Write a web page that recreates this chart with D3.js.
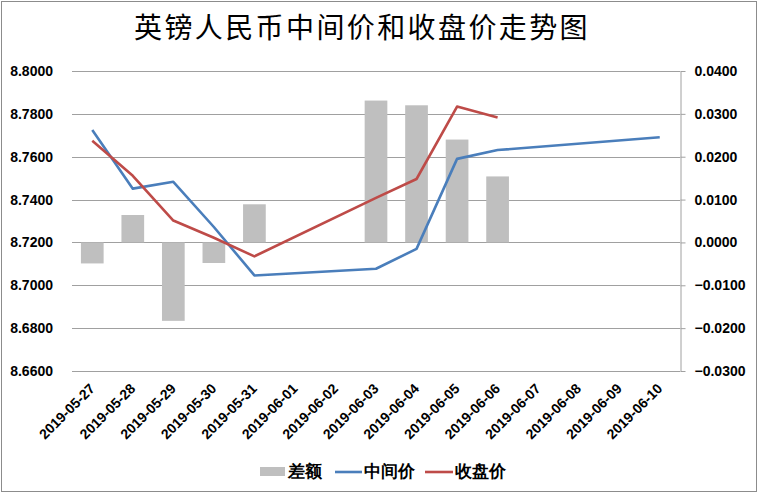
<!DOCTYPE html>
<html>
<head>
<meta charset="utf-8">
<script src="https://cdn.jsdelivr.net/npm/d3@7"></script>
<style>
  body { margin: 0; background: #fff; }
  text { font-family: "Liberation Sans", Arial, sans-serif; }
</style>
</head>
<body>
<svg id="chart" width="759" height="494"></svg>
<script>
// 日期（类目）
const dates = ["2019-05-27", "2019-05-28", "2019-05-29", "2019-05-30", "2019-05-31",
  "2019-06-01", "2019-06-02", "2019-06-03", "2019-06-04", "2019-06-05",
  "2019-06-06", "2019-06-07", "2019-06-08", "2019-06-09", "2019-06-10"];
// 中间价（左轴）
const midPrice = [8.7725, 8.7451, 8.7483, 8.7272, 8.7046, null, null, 8.7077, 8.7170, 8.7590,
  8.7631, null, null, null, 8.7691];
// 收盘价（左轴）
const closePrice = [8.7675, 8.7511, 8.7302, 8.7222, 8.7135, null, null, 8.7408, 8.7496, 8.7834,
  8.7783, null, null, null, null];
// 差额（右轴）
const diff = [-0.0049, 0.0064, -0.0183, -0.0048, 0.0089, null, null, 0.0331, 0.0320, 0.0240,
  0.0154, null, null, null, null];
// 刻度
const leftTicks = [8.66, 8.68, 8.70, 8.72, 8.74, 8.76, 8.78, 8.80];
const rightTicks = [-0.03, -0.02, -0.01, 0, 0.01, 0.02, 0.03, 0.04];

const plot = { left: 72, right: 680, top: 71, bottom: 371 };
const svg = d3.select("#chart");

// 边框
svg.append("rect")
  .attr("x", 1.5).attr("y", 1.5).attr("width", 755).attr("height", 490)
  .attr("fill", "none").attr("stroke", "#8c8c8c");

// 标题
svg.append("text")
  .attr("x", 362).attr("y", 26)
  .attr("text-anchor", "middle").attr("dominant-baseline", "central")
  .style("font-family", "'Noto Sans CJK SC', sans-serif")
  .style("font-size", "28px").style("letter-spacing", "2.4px")
  .text("英镑人民币中间价和收盘价走势图");

// scale
const x = d3.scaleBand().domain(dates).range([plot.left, plot.right]);
const yL = d3.scaleLinear().domain([8.66, 8.80]).range([plot.bottom, plot.top]);
const yR = d3.scaleLinear().domain([-0.03, 0.04]).range([plot.bottom, plot.top]);

// 网格线
svg.append("g").selectAll("line").data(leftTicks).join("line")
  .attr("x1", plot.left).attr("x2", plot.right)
  .attr("y1", d => Math.round(yL(d)) + 0.5).attr("y2", d => Math.round(yL(d)) + 0.5)
  .attr("stroke", "#a0a0a0");

// 左轴
const gL = svg.append("g")
  .attr("transform", `translate(${plot.left},0)`)
  .call(d3.axisLeft(yL).tickValues(leftTicks).tickFormat(d3.format(".4f")).tickSize(0).tickPadding(19));
gL.select(".domain").remove();
gL.selectAll("text").style("font-size", "14px").style("font-weight", "bold").attr("fill", "#000");

// 右轴
const gR = svg.append("g")
  .attr("transform", `translate(${plot.right + 0.5},0)`)
  .call(d3.axisRight(yR).tickValues(rightTicks).tickFormat(d3.format(".4f")).tickSize(5).tickSizeOuter(0).tickPadding(9));
gR.select(".domain").attr("stroke", "#a0a0a0");
gR.selectAll(".tick line").attr("stroke", "#a0a0a0");
gR.selectAll("text").style("font-size", "14px").style("font-weight", "bold").attr("fill", "#000");

// x轴
const gX = svg.append("g")
  .attr("transform", `translate(0,${plot.bottom})`)
  .call(d3.axisBottom(x).tickSize(0));
gX.select(".domain").remove();
gX.selectAll("text")
  .attr("x", 0).attr("y", 0).attr("dy", "0.35em")
  .attr("transform", "translate(0,15) rotate(-45)")
  .style("text-anchor", "end")
  .style("font-size", "14px").style("font-weight", "bold").attr("fill", "#000");

// 柱子：差额
const barW = x.bandwidth() * 0.56;
svg.append("g").selectAll("rect")
  .data(dates.map((d, i) => ({ date: d, v: diff[i] })).filter(d => d.v !== null))
  .join("rect")
  .attr("x", d => x(d.date) + (x.bandwidth() - barW) / 2)
  .attr("width", barW)
  .attr("y", d => yR(Math.max(0, d.v)))
  .attr("height", d => Math.abs(yR(d.v) - yR(0)))
  .attr("fill", "#bfbfbf");

// 折线
const cx = d => x(d.date) + x.bandwidth() / 2;
function drawLine(values, color) {
  const pts = dates.map((d, i) => ({ date: d, v: values[i] })).filter(d => d.v !== null);
  svg.append("path")
    .datum(pts)
    .attr("d", d3.line().x(cx).y(d => yL(d.v)))
    .attr("fill", "none")
    .attr("stroke", color)
    .attr("stroke-width", 2.6)
    .attr("stroke-linejoin", "round");
}
drawLine(midPrice, "#4a7ebb");
drawLine(closePrice, "#be4b48");

// 图例
const lg = svg.append("g")
  .style("font-family", "'Noto Sans CJK SC', sans-serif")
  .style("font-size", "17px").style("font-weight", "bold");
lg.append("rect").attr("x", 260).attr("y", 467).attr("width", 25).attr("height", 9).attr("fill", "#bfbfbf");
lg.append("text").attr("x", 288).attr("y", 471).attr("dominant-baseline", "central").text("差额");
lg.append("line").attr("x1", 335).attr("x2", 362).attr("y1", 472).attr("y2", 472)
  .attr("stroke", "#4a7ebb").attr("stroke-width", 2.6);
lg.append("text").attr("x", 364).attr("y", 471).attr("dominant-baseline", "central").text("中间价");
lg.append("line").attr("x1", 425).attr("x2", 453).attr("y1", 472).attr("y2", 472)
  .attr("stroke", "#be4b48").attr("stroke-width", 2.6);
lg.append("text").attr("x", 455).attr("y", 471).attr("dominant-baseline", "central").text("收盘价");
</script>
</body>
</html>
